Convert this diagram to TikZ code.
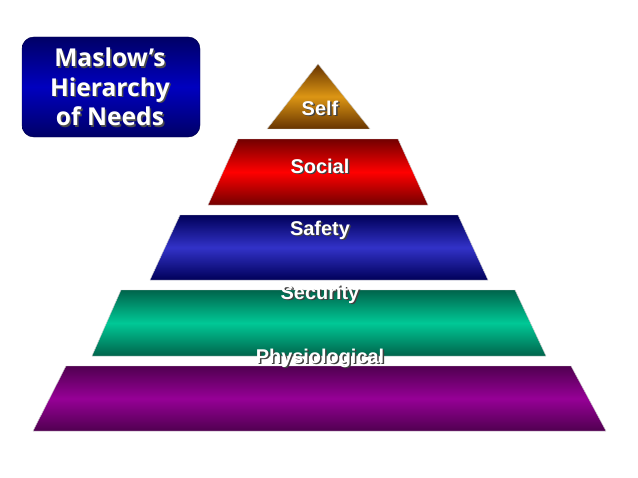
\documentclass[tikz,border=0pt]{standalone}
\usepackage{fontspec}
\setmainfont{Liberation Sans}
\newfontfamily\titlefont{Open Sans}
\begin{document}
\begin{tikzpicture}[x=0.03cm,y=-0.03cm,
  layer/.style={draw=white!60!gray,line width=0.4pt},
  lbl/.style={text=white,font=\bfseries\fontsize{17}{17}\selectfont},
  shd/.style={text=black!75,font=\bfseries\fontsize{17}{17}\selectfont},
  ttl/.style={text=white,font=\titlefont\bfseries\fontsize{21}{25}\selectfont,align=center},
  tshd/.style={text=black!70,font=\titlefont\bfseries\fontsize{21}{25}\selectfont,align=center}]
\useasboundingbox (0,0) rectangle (638,478);
% title box
\shade[top color=blue!40!black,bottom color=blue!40!black,middle color=blue!75!black,rounded corners=10pt,draw=blue!30!black]
  (22,37) rectangle (200,137);
\node[tshd] (ts) at (111.5,88.5) {Maslow’s\\Hierarchy\\of Needs};
\node[ttl] (title) at (110,87) {Maslow’s\\Hierarchy\\of Needs};
% layers
\shade[layer,top color=orange!40!black,bottom color=orange!40!black,middle color={rgb,255:red,220;green,150;blue,20}]
  (318,64) -- (370,129) -- (267,129) -- cycle;
\shade[layer,top color=red!45!black,bottom color=red!45!black,middle color=red]
  (238,139) -- (398,139) -- (428,205) -- (208,205) -- cycle;
\shade[layer,top color=blue!35!black,bottom color=blue!35!black,middle color={rgb,255:red,50;green,50;blue,200}]
  (180,215) -- (458,215) -- (488,280) -- (150,280) -- cycle;
\shade[layer,top color={rgb,255:red,0;green,100;blue,75},bottom color={rgb,255:red,0;green,100;blue,75},middle color={rgb,255:red,0;green,200;blue,150}]
  (121,290) -- (515,290) -- (546,356) -- (92,356) -- cycle;
\shade[layer,top color={rgb,255:red,80;green,0;blue,80},bottom color={rgb,255:red,80;green,0;blue,80},middle color={rgb,255:red,150;green,0;blue,150}]
  (66,366) -- (571,366) -- (606,431) -- (33,431) -- cycle;
% labels
\foreach \n/\t/\y in {self/Self/108,social/Social/166,safety/Safety/230,security/Security/294,phys/Physiological/358}{
  \node[shd] (\n s) at (321.5,\y+1.5) {\t};
  \node[lbl] (\n) at (320,\y) {\t};
}
\end{tikzpicture}
\end{document}
